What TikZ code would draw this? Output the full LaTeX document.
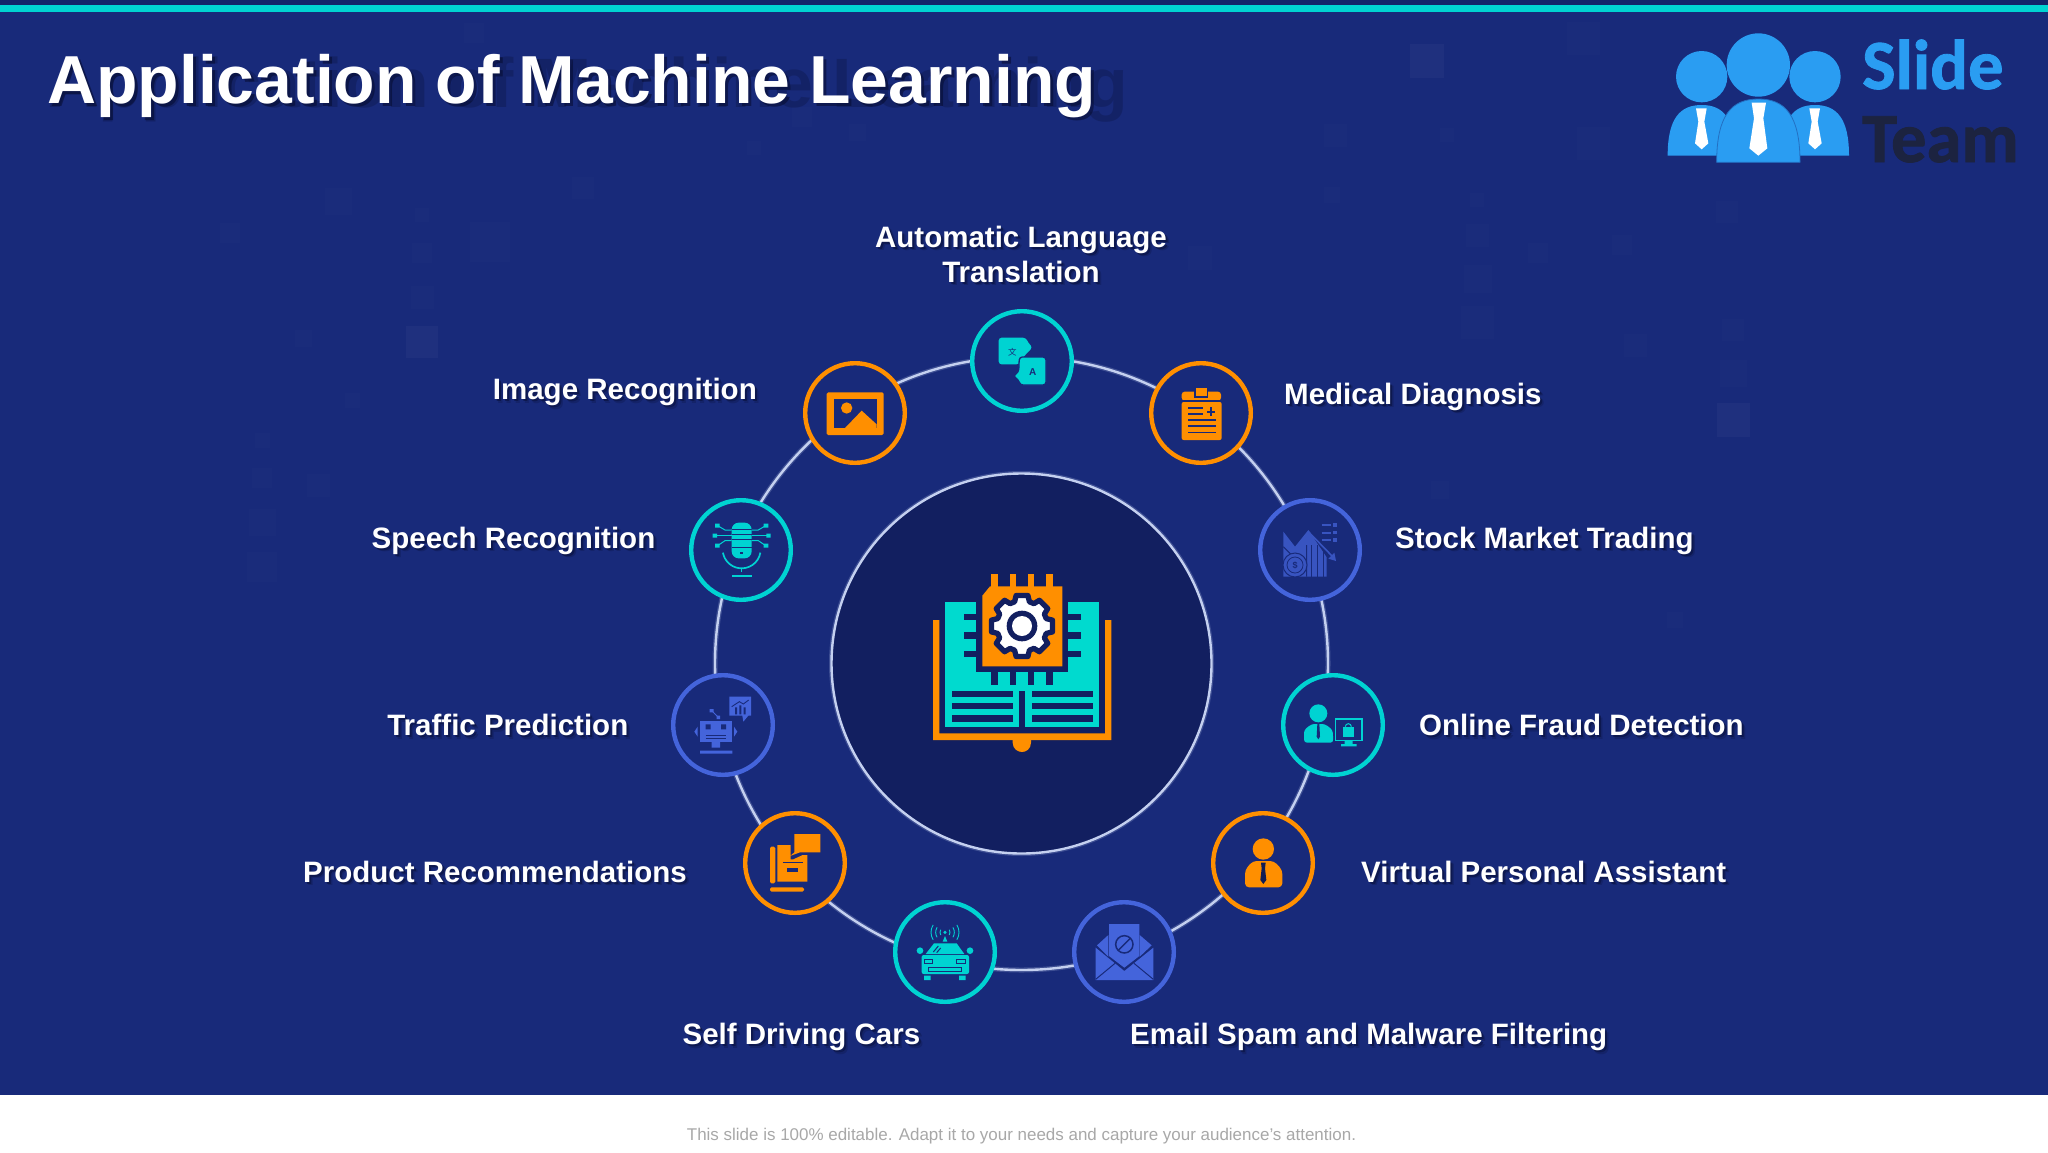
\documentclass[tikz,border=0pt]{standalone}
\usepackage{fontspec}
\setmainfont{Liberation Sans}
\newfontfamily\cjkf{Noto Sans CJK SC}
\newfontfamily\logof[BoldFeatures={FakeBold=1.2}]{Carlito}
\definecolor{bgc}{HTML}{182A7A}
\definecolor{topc}{HTML}{13246A}
\definecolor{darkc}{HTML}{121F60}
\definecolor{teal}{HTML}{00D3D2}
\definecolor{tealb}{HTML}{00DACF}
\definecolor{org}{HTML}{FF8F00}
\definecolor{blu}{HTML}{4464DB}
\definecolor{ringc}{HTML}{C4D0F0}
\definecolor{shad}{HTML}{060B2E}
\definecolor{logob}{HTML}{2A9DF2}
\definecolor{logod}{HTML}{1C2340}
\definecolor{foot}{HTML}{A8A8A8}
\tikzset{
  badge/.style={circle,draw=#1,line width=4.4pt,fill=bgc,minimum size=99.6pt,inner sep=0pt,outer sep=0pt},
  labtxt/.style={font=\bfseries\fontsize{29.5}{35}\selectfont,inner sep=0pt,align=center},
  ringline/.style={circle,draw=ringc,line width=2.4pt,inner sep=0pt,outer sep=0pt},
  sq/.style={fill=white,opacity=.013},
}
\newcommand{\shlab}[5]{%
  \node[labtxt,anchor=#4,text=shad,opacity=.22] (#1s) at (#2+3.5,#3+3.5) {#5};
  \node[labtxt,anchor=#4,text=shad,opacity=.45] (#1t) at (#2+2,#3+2) {#5};
  \node[labtxt,anchor=#4,text=white] (#1) at (#2,#3) {#5};
}
\begin{document}
\begin{tikzpicture}[x=1pt,y=-1pt]
\useasboundingbox (0,0) rectangle (2048,1152);
\fill[white] (0,0) rectangle (2048,1152);
\fill[bgc] (0,0) rectangle (2048,1094.5);
\fill[topc] (0,0) rectangle (2048,5);
\fill[teal] (0,5) rectangle (2048,12);
% faint squares of the backdrop
\foreach \x/\y/\s in {1583/38/33,1335/135/23,1447/135/14,1593/143/33,1477/200/14,1332/195/16,1727/212/22,1477/235/23,1538/253/20,1622/245/20,1478/279/28,1477/322/33,1635/345/23,1733/330/22,1733/373/27,338/201/27,230/233/20,422/215/14,422/253/20,490/242/40,422/297/23,583/188/22,303/338/17,352/400/15,262/440/15,262/478/20,318/485/23,262/522/27,262/567/30,802/117/20,857/132/17,754/148/14,474/33/20,1200/258/24,1440/490/18,1675/620/16}
  \fill[sq] (\x-\s/2,\y-\s/2) rectangle (\x+\s/2,\y+\s/2);
\fill[white,opacity=.03] (406,326) rectangle (438,358);
\fill[white,opacity=.03] (1410,44) rectangle (1444,78);
\fill[white,opacity=.03] (1717,403) rectangle (1750,437);
% title
\node[anchor=base west,inner sep=0pt,text=shad,opacity=.25,font=\bfseries\fontsize{69.9}{70}\selectfont] (titleg) at (48,107) {Application of Machine Learning};
\node[anchor=base west,inner sep=0pt,text=shad,opacity=.55,font=\bfseries\fontsize{67.9}{70}\selectfont] (titles) at (50,106) {Application of Machine Learning};
\node[anchor=base west,inner sep=0pt,text=white,font=\bfseries\fontsize{67.9}{70}\selectfont] (title) at (47,103) {Application of Machine Learning};
% logo
\begin{scope}[shift={(1640,0)},scale=.33333]
  \fill[logob] (185,230) circle (77) (525,230) circle (77);
  \fill[logob] (83,467) .. controls (83,355) and (120,315) .. (185,315) .. controls (250,315) and (285,355) .. (285,467) -- cycle;
  \fill[logob] (425,467) .. controls (425,355) and (460,315) .. (525,315) .. controls (590,315) and (627,355) .. (627,467) -- cycle;
  \fill[white] (168,325)--(200,325)--(193,365)--(205,430)--(185,448)--(165,430)--(175,365)--cycle;
  \fill[white] (508,325)--(540,325)--(533,365)--(545,430)--(525,448)--(505,430)--(515,365)--cycle;
  \filldraw[fill=logob,draw=bgc!40!logob,line width=.8pt] (230,487) .. controls (230,345) and (275,297) .. (355,297) .. controls (435,297) and (480,345) .. (480,487) -- cycle;
  \fill[logob] (355,195) circle (95);
  \fill[white] (335,308)--(378,308)--(370,355)--(382,445)--(355,467)--(328,445)--(342,355)--cycle;
\end{scope}
\node[anchor=base west,inner sep=0pt,text=logob,font=\logof\bfseries\fontsize{70.5}{70}\selectfont] (slide) at (1862,89) {Slide};
\node[anchor=base west,inner sep=0pt,text=logod,font=\logof\bfseries\fontsize{70.5}{70}\selectfont] (team) at (1862,162) {Team};
% ring and hub
\draw[ringc,opacity=.22,line width=5pt] (1021.5,663.5) circle (306.5);
\node[ringline,minimum size=613pt] (ring) at (1021.5,663.5) {};
\draw[ringc,opacity=.22,line width=5pt] (1021.5,663.5) circle (190);
\node[ringline,fill=darkc,minimum size=380pt] (hub) at (1021.5,663.5) {};
% hub icon
\begin{scope}[shift={(850,450)},scale=.33333]
  \fill[org] (249,510) rectangle (268,870) (765,510) rectangle (784,870) (249,850) rectangle (784,870);
  \fill[org] (488,868) -- (488,878) .. controls (488,898) and (505,906) .. (516,906) .. controls (527,906) and (543,898) .. (543,878) -- (543,868) -- cycle;
  \fill[tealb] (286,455) rectangle (747,832);
  \fill[darkc] (508,722) rectangle (525,850);
  \foreach \yy in {722,759,796} {
    \fill[darkc] (305,\yy) rectangle (490,\yy+19);
    \fill[darkc] (545,\yy) rectangle (729,\yy+19);
  }
  \fill[darkc] (379,440) rectangle (655,667);
  \foreach \yy in {492,547,602} {
    \fill[darkc] (342,\yy) rectangle (379,\yy+19);
    \fill[darkc] (655,\yy) rectangle (692,\yy+19);
  }
  \foreach \xx in {424,479,534,589} {
    \fill[darkc] (\xx,667) rectangle (\xx+19,704);
    \fill[org] (\xx,372) rectangle (\xx+19,412);
  }
  \fill[org] (397,437)--(420,409)--(637,409)--(637,649)--(397,649)--cycle;
  \begin{scope}[shift={(516,528)}]
    \filldraw[fill=white,draw=darkc,line width=5.3pt,line join=round] (-90-17:76)
      \foreach \a in {-90,-45,0,45,90,135,180,225} { -- (\a-17:76) -- (\a-11:93) -- (\a+11:93) -- (\a+17:76) } -- cycle;
    \fill[darkc] (0,0) circle (46);
    \fill[white] (0,0) circle (30);
  \end{scope}
\end{scope}
% badges
\node[badge=teal] (trans) at (1022,361) {};
\node[badge=org] (imgr) at (855,413) {};
\node[badge=org] (med) at (1201,413) {};
\node[badge=teal] (speech) at (741,550) {};
\node[badge=blu] (stock) at (1310,550) {};
\node[badge=blu] (traffic) at (723,725) {};
\node[badge=teal] (fraud) at (1333,725) {};
\node[badge=org] (prod) at (795,863) {};
\node[badge=org] (virt) at (1263,863) {};
\node[badge=teal] (car) at (945,952) {};
\node[badge=blu] (mail) at (1124,952) {};
% translation icon
\begin{scope}[shift={(780,290)},scale=.33333]
  \fill[teal,rounded corners=3pt] (656,143)--(738,143)--(744,158)--(758,172)--(744,186)--(724,208)--(718,223)--(656,223)--cycle;
  \filldraw[fill=teal,draw=bgc,line width=1.3pt,rounded corners=3pt] (718,201)--(798,201)--(798,285)--(720,285)--(716,270)--(699,258)--(716,246)--cycle;
  \node[text=bgc,inner sep=0pt,font=\cjkf\fontsize{8.5}{9}\selectfont] (zi) at (697,187) {文};
  \node[text=bgc,inner sep=0pt,font=\bfseries\fontsize{10}{10}\selectfont] (aa) at (758,245) {A};
  % image icon
  \fill[org,rounded corners=1.5pt] (140,307) rectangle (311,435);
  \fill[bgc] (161,327) rectangle (290,413);
  \fill[org] (195,414)--(245,362)--(290,403)--(290,414)--cycle;
  \fill[org] (200,354) circle (17);
  % clipboard icon
  \fill[org,rounded corners=2pt] (1205,336) rectangle (1325,450);
  \fill[org,rounded corners=3pt] (1205,332)--(1205,305)--(1323,305)--(1323,332)--cycle;
  \fill[bgc] (1205,330) rectangle (1325,336);
  \fill[bgc] (1243,302) rectangle (1285,324);
  \fill[org] (1249,293) rectangle (1280,318);
  \foreach \yy/\xa in {354/1268,372/1268,390/1307,408/1307,427/1307}
    \draw[bgc,line width=1.5pt] (1224,\yy)--(\xa,\yy);
  \draw[bgc,line width=1.7pt] (1281,365)--(1306,365) (1293,352)--(1293,378);
\end{scope}
% speech and traffic icons
\begin{scope}[shift={(660,480)},scale=.33333,every path/.append style={line cap=butt}]
  \fill[teal,rounded corners=7pt] (215,128) rectangle (275,235);
  \foreach \yy in {148,163,178,202} \draw[bgc,line width=1pt] (215,\yy)--(275,\yy);
  \fill[bgc] (240,215) rectangle (250,222);
  \draw[teal,line width=1.7pt] ([shift={(10:57)}]245,208) arc (10:170:57);
  \draw[teal,line width=1.4pt] (245,265)--(245,277);
  \draw[teal,line width=1.7pt] (217,288)--(275,288);
  \foreach \sx in {1,-1} {
    \begin{scope}[shift={(245,0)},xscale=\sx]
      \draw[teal,line width=1pt] (30,150)--(50,150)--(72,137);
      \draw[teal,line width=1pt] (30,167)--(80,167);
      \draw[teal,line width=1pt] (30,182)--(50,182)--(72,197);
      \fill[teal] (66,131) rectangle (80,143) (74,161) rectangle (87,173) (66,191) rectangle (80,203);
    \end{scope}
  }
  % traffic
  \fill[blu] (120,722) rectangle (215,785);
  \fill[bgc] (137,733) rectangle (152,748) (183,733) rectangle (198,748);
  \draw[bgc,line width=1pt] (137,765)--(198,765) (137,775)--(198,775);
  \fill[blu] (155,785) rectangle (180,803) (120,812) rectangle (217,821);
  \fill[blu] (103,755)--(113,740)--(113,770)--cycle (232,755)--(222,740)--(222,770)--cycle;
  \draw[blu,line width=1pt] (155,692)--(175,712);
  \fill[blu] (149,687) rectangle (161,697) (170,707) rectangle (180,717);
  \fill[blu] (208,650) rectangle (273,707) (247,707)--(250,725)--(265,707)--cycle;
  \fill[bgc] (225,682) rectangle (231,703) (238,676) rectangle (244,703) (251,682) rectangle (257,703);
  \draw[bgc,line width=.9pt] (215,680)--(238,665)--(250,672)--(266,660);
\end{scope}
% stock, fraud, virtual assistant icons
\begin{scope}[shift={(1240,480)},scale=.33333]
  \fill[blu!72!bgc] (130,155)--(165,200)--(205,150)--(260,232)--(260,290)--(130,290)--cycle;
  \foreach \xx in {215,232,249} \draw[bgc,line width=1pt] (\xx,195)--(\xx,290);
  \draw[bgc,line width=1pt] (130,200)--(165,235) (200,195)--(200,290);
  \filldraw[fill=blu!72!bgc,draw=bgc,line width=1pt] (165,255) circle (36);
  \draw[bgc,line width=.8pt] (165,255) circle (24);
  \node[text=bgc,inner sep=0pt,font=\bfseries\fontsize{9}{9}\selectfont] (dollar) at (165,255) {\$};
  \draw[blu!72!bgc,line width=1.6pt] (205,155)--(280,232);
  \fill[blu!72!bgc] (288,243)--(265,236)--(283,218)--cycle;
  \foreach \yy in {135,158,180} {
    \draw[blu!72!bgc,line width=2pt] (245,\yy)--(272,\yy);
    \fill[blu!72!bgc] (280,\yy-5) rectangle (290,\yy+5);
  }
  % fraud
  \fill[teal] (235,700) circle (27);
  \fill[teal,rounded corners=3pt] (192,788)--(192,750)--(215,732)--(255,732)--(278,750)--(280,788)--cycle;
  \fill[bgc] (232,732)--(238,732)--(240,770)--(235,778)--(230,770)--cycle;
  \draw[teal,line width=1.3pt] (287,717) rectangle (366,782);
  \fill[teal] (314,782) rectangle (338,792) (303,792) rectangle (350,799);
  \fill[teal] (308,740) rectangle (342,770);
  \draw[teal,line width=1pt] (316,740) arc (180:360:9);
  % virtual
  \fill[org] (70,1107) circle (32);
  \fill[org,rounded corners=4pt] (15,1222)--(15,1170)--(38,1143)--(102,1143)--(127,1170)--(127,1222)--cycle;
  \fill[bgc!70!black] (63,1148)--(77,1148)--(75,1165)--(79,1200)--(70,1212)--(61,1200)--(65,1165)--cycle;
\end{scope}
% product, car and mail icons
\begin{scope}[shift={(730,800)},scale=.33333]
  \fill[org] (193,102) rectangle (271,157) (193,157)--(180,168)--(210,157)--cycle;
  \fill[org,rounded corners=1.5pt] (120,140) rectangle (136,250);
  \fill[org] (142,135) rectangle (182,178) (142,178)--(190,178)--(218,165)--(232,165)--(232,245)--(142,245)--cycle;
  \draw[bgc,line width=1pt] (158,188)--(218,188);
  \fill[bgc] (172,205) rectangle (204,216);
  \fill[org,rounded corners=1.5pt] (120,262) rectangle (222,275);
  % car
  \fill[teal] (587,462)--(612,430)--(680,430)--(703,462)--cycle;
  \fill[teal,rounded corners=2pt] (575,465) rectangle (717,522);
  \fill[teal] (582,527) rectangle (602,540) (687,527) rectangle (707,540);
  \fill[teal] (570,452) circle (10) (720,452) circle (10);
  \draw[bgc,line width=1pt] (610,456)--(625,438) (620,458)--(632,444);
  \draw[bgc,line width=1pt] (583,477) rectangle (608,490) (680,477) rectangle (705,490);
  \draw[bgc,line width=1pt] (595,503) rectangle (693,515);
  \fill[teal] (645,408)--(638,425)--(652,425)--cycle;
  \fill[teal] (645,397) circle (5);
  \foreach \r in {15,28,42} {
    \draw[teal,line width=.9pt] ([shift={(-32:\r)}]645,397) arc (-32:32:\r);
    \draw[teal,line width=.9pt] ([shift={(148:\r)}]645,397) arc (148:212:\r);
  }
  % mail
  \fill[blu] (1101,436)--(1135,405)--(1135,470)--cycle (1265,436)--(1229,405)--(1229,470)--cycle;
  \fill[blu] (1137,372)--(1228,372)--(1228,468)--(1183,503)--(1137,468)--cycle;
  \draw[bgc,line width=1.5pt] (1183,433) circle (26);
  \draw[bgc,line width=1.5pt] (1165,451)--(1201,415);
  \fill[blu] (1097,443)--(1183,513)--(1270,443)--(1270,540)--(1097,540)--cycle;
  \draw[bgc,line width=1pt] (1097,538)--(1155,490) (1270,538)--(1212,490);
\end{scope}
% labels
\shlab{ltrans}{1021}{254}{center}{Automatic Language\\Translation}
\shlab{limg}{757}{399.5}{base east}{Image Recognition}
\shlab{lmed}{1284}{404}{base west}{Medical Diagnosis}
\shlab{lspeech}{655.5}{548}{base east}{Speech Recognition}
\shlab{lstock}{1395}{548}{base west}{Stock Market Trading}
\shlab{ltraffic}{628.5}{735.5}{base east}{Traffic Prediction}
\shlab{lfraud}{1419}{735.5}{base west}{Online Fraud Detection}
\shlab{lprod}{687}{882}{base east}{Product Recommendations}
\shlab{lvirt}{1361}{882}{base west}{Virtual Personal Assistant}
\shlab{lcar}{920.5}{1044.5}{base east}{Self Driving Cars}
\shlab{lmail}{1130}{1044.5}{base west}{Email Spam and Malware Filtering}
% footer
\node[anchor=base,inner sep=0pt,text=foot,font=\fontsize{16.97}{18}\selectfont] (foot) at (1021.5,1140) {This slide is 100\% editable. Adapt it to your needs and capture your audience's attention.};
\end{tikzpicture}
\end{document}
